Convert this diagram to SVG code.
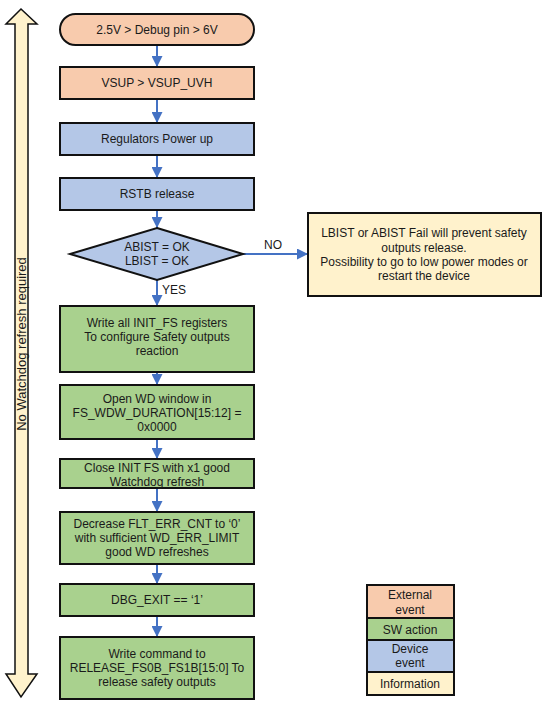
<svg xmlns="http://www.w3.org/2000/svg" width="547" height="709" viewBox="0 0 547 709">
<defs>
<style>
text{font-family:"Liberation Sans",Arial,sans-serif;font-size:12px;fill:#1a1a1a;text-anchor:middle}
.ext{fill:#F8CBAD;stroke:#111;stroke-width:2}
.dev{fill:#B4C7E7;stroke:#111;stroke-width:2}
.sw{fill:#A9D18E;stroke:#111;stroke-width:2}
.inf{fill:#FFF2CC;stroke:#111;stroke-width:2}
.con{stroke:#4472C4;stroke-width:2;fill:none}
</style>
<marker id="ah" viewBox="0 0 10 10" refX="10" refY="5" markerWidth="5.5" markerHeight="5.5" orient="auto" markerUnits="strokeWidth">
<path d="M0,0 L10,5 L0,10 z" fill="#4472C4"/>
</marker>
</defs>
<rect width="547" height="709" fill="#fff"/>
<g id="bigArrow">
<polygon points="21,9 37,24 28,24 28,674 37,674 21,697 6,674 15,674 15,24 6,24" fill="#FFF2CC" stroke="#111" stroke-width="1.5" stroke-linejoin="miter"/>
<text transform="translate(26,344) rotate(-90)" style="font-size:13px">No Watchdog refresh required</text>
</g>
<g id="connectors">
<line class="con" x1="157" y1="45" x2="157" y2="67" marker-end="url(#ah)"/>
<line class="con" x1="157" y1="99" x2="157" y2="123" marker-end="url(#ah)"/>
<line class="con" x1="157" y1="155" x2="157" y2="178" marker-end="url(#ah)"/>
<line class="con" x1="157" y1="210" x2="157" y2="228" marker-end="url(#ah)"/>
<line class="con" x1="157" y1="280" x2="157" y2="306" marker-end="url(#ah)"/>
<line class="con" x1="243" y1="254" x2="308" y2="254" marker-end="url(#ah)"/>
<line class="con" x1="157" y1="372" x2="157" y2="385" marker-end="url(#ah)"/>
<line class="con" x1="157" y1="439" x2="157" y2="459" marker-end="url(#ah)"/>
<line class="con" x1="157" y1="488" x2="157" y2="512" marker-end="url(#ah)"/>
<line class="con" x1="157" y1="564" x2="157" y2="584" marker-end="url(#ah)"/>
<line class="con" x1="157" y1="616" x2="157" y2="637" marker-end="url(#ah)"/>
<text x="273" y="249" style="text-anchor:middle">NO</text>
<text x="162" y="294" style="text-anchor:start">YES</text>
</g>
<g id="start">
<rect class="ext" x="60" y="14" width="194" height="31" rx="15.5"/>
<text x="157" y="34">2.5V &gt; Debug pin &gt; 6V</text>
</g>
<g id="vsup">
<rect class="ext" x="60" y="67" width="194" height="32"/>
<text x="157" y="87">VSUP &gt; VSUP_UVH</text>
</g>
<g id="regulators">
<rect class="dev" x="60" y="123" width="194" height="32"/>
<text x="157" y="143">Regulators Power up</text>
</g>
<g id="rstb">
<rect class="dev" x="60" y="178" width="194" height="32"/>
<text x="157" y="198">RSTB release</text>
</g>
<g id="decision">
<polygon class="dev" points="157,228 243,254 157,280 70,254"/>
<text x="157" y="251">ABIST = OK</text>
<text x="157" y="265">LBIST = OK</text>
</g>
<g id="info">
<rect class="inf" x="308" y="213" width="233" height="83"/>
<text x="424" y="237">LBIST or ABIST Fail will prevent safety</text>
<text x="424" y="252">outputs release.</text>
<text x="424" y="266">Possibility to go to low power modes or</text>
<text x="424" y="280">restart the device</text>
</g>
<g id="initfs">
<rect class="sw" x="60" y="306" width="194" height="66"/>
<text x="157" y="327">Write all INIT_FS registers</text>
<text x="157" y="341">To configure Safety outputs</text>
<text x="157" y="355">reaction</text>
</g>
<g id="openwd">
<rect class="sw" x="60" y="385" width="194" height="54"/>
<text x="157" y="403">Open WD window in</text>
<text x="157" y="417">FS_WDW_DURATION[15:12] =</text>
<text x="157" y="431">0x0000</text>
</g>
<g id="closeinit">
<rect class="sw" x="60" y="459" width="194" height="29"/>
<text x="157" y="472">Close INIT FS with x1 good</text>
<text x="157" y="486">Watchdog refresh</text>
</g>
<g id="decrease">
<rect class="sw" x="60" y="512" width="194" height="52"/>
<text x="157" y="528">Decrease FLT_ERR_CNT to ‘0’</text>
<text x="157" y="542">with sufficient WD_ERR_LIMIT</text>
<text x="157" y="556">good WD refreshes</text>
</g>
<g id="dbgexit">
<rect class="sw" x="60" y="584" width="194" height="32"/>
<text x="157" y="604">DBG_EXIT == ‘1’</text>
</g>
<g id="release">
<rect class="sw" x="60" y="637" width="194" height="62"/>
<text x="157" y="658">Write command to</text>
<text x="157" y="672">RELEASE_FS0B_FS1B[15:0] To</text>
<text x="157" y="686">release safety outputs</text>
</g>
<g id="legend">
<rect class="ext" x="367" y="585" width="87" height="33"/>
<text x="410" y="599">External</text>
<text x="410" y="614">event</text>
<rect class="sw" x="367" y="618" width="87" height="22"/>
<text x="410" y="634">SW action</text>
<rect class="dev" x="367" y="640" width="87" height="32"/>
<text x="410" y="653">Device</text>
<text x="410" y="667">event</text>
<rect class="inf" x="367" y="672" width="87" height="23"/>
<text x="410" y="688">Information</text>
</g>
</svg>
